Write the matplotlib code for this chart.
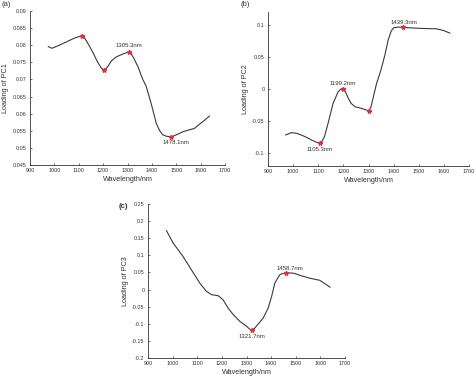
import matplotlib
matplotlib.use("Agg")
import matplotlib.pyplot as plt

plt.rcParams['font.family'] = ['Liberation Sans', 'DejaVu Sans']

# Panel (a) PC1 loading
wl_a = [975, 990, 1020, 1050, 1080, 1100, 1113, 1122, 1132, 1145, 1160, 1173, 1183, 1193,
        1203, 1212, 1222, 1235, 1254, 1280, 1295, 1305.3, 1314, 1325, 1343, 1361, 1377,
        1397, 1418, 1432, 1445, 1460, 1478.1, 1500, 1527, 1550, 1575, 1595, 1615, 1636]
pc1 = [0.0796, 0.0791, 0.0800, 0.0810, 0.0820, 0.0825, 0.0826, 0.0823, 0.0812, 0.0796,
       0.0776, 0.0757, 0.0744, 0.0733, 0.0728, 0.0731, 0.0741, 0.0755, 0.0766, 0.0774,
       0.0778, 0.0781, 0.0776, 0.0763, 0.0737, 0.0703, 0.0679, 0.0630, 0.0572, 0.0550,
       0.0538, 0.0534, 0.0532, 0.0538, 0.0547, 0.0552, 0.0557, 0.0569, 0.0580, 0.0593]
mk_a_x = [1113, 1203, 1305.3, 1478.1]
mk_a_y = [0.0826, 0.0728, 0.0781, 0.0532]

# Panel (b) PC2 loading
wl_b = [970, 993, 1013, 1033, 1053, 1073, 1093, 1105.3, 1115, 1125, 1139, 1159, 1179,
        1190, 1199.2, 1208, 1218, 1230, 1246, 1272, 1290, 1300, 1309, 1319, 1332, 1349,
        1365, 1378, 1390, 1400, 1420, 1439.3, 1465, 1518, 1571, 1598, 1624]
pc2 = [-0.0716, -0.0680, -0.0690, -0.0718, -0.0752, -0.0795, -0.0830, -0.0840, -0.0815,
       -0.0740, -0.0535, -0.0225, -0.0044, 0.0000, 0.0000, -0.0040, -0.0130, -0.0220,
       -0.0276, -0.0302, -0.0325, -0.0340, -0.0290, -0.0130, 0.0085, 0.0290, 0.0525,
       0.0760, 0.0900, 0.0955, 0.0965, 0.0960, 0.0953, 0.0943, 0.0938, 0.0912, 0.0871]
mk_b_x = [1105.3, 1199.2, 1300, 1439.3]
mk_b_y = [-0.0840, 0.0000, -0.0340, 0.0960]

# Panel (c) PC3 loading
wl_c = [975, 1002, 1042, 1076, 1110, 1137, 1158, 1185, 1205, 1225, 1246, 1273, 1300,
        1312, 1321.7, 1332, 1345, 1368, 1388, 1402, 1415, 1436, 1458.7, 1490, 1524,
        1558, 1598, 1639]
pc3 = [0.172, 0.136, 0.097, 0.058, 0.019, -0.005, -0.015, -0.018, -0.030, -0.054,
       -0.073, -0.093, -0.107, -0.115, -0.119, -0.114, -0.103, -0.083, -0.054, -0.020,
       0.019, 0.044, 0.049, 0.048, 0.040, 0.033, 0.027, 0.007]
mk_c_x = [1321.7, 1458.7]
mk_c_y = [-0.119, 0.049]

fig = plt.figure(figsize=(4.74, 3.8), dpi=100)
W, H = 474, 380

def ax_at(l, r, t, b):
    return fig.add_axes([l / W, 1 - b / H, (r - l) / W, (b - t) / H])

line_c = '#3a3a3a'
txt_c = '#333333'
fs_tick = 3.9
fs_lab = 5.2
fs_ann = 4.3

def style(ax, ylabel, ylim, yticks, yfmt):
    ax.set_xlim(900, 1700)
    ax.set_xticks(range(900, 1701, 100))
    ax.set_ylim(*ylim)
    ax.set_yticks(yticks)
    ax.set_yticklabels([yfmt(v) for v in yticks])
    for s in ['top', 'right']:
        ax.spines[s].set_visible(False)
    for s in ['left', 'bottom']:
        ax.spines[s].set_linewidth(0.6)
        ax.spines[s].set_color('#333333')
    ax.tick_params(direction='in', length=1.5, width=0.5, labelsize=fs_tick, pad=2.5,
                   colors='#333333')
    ax.set_xlabel('Wavelength/nm', fontsize=fs_lab, labelpad=2, color=txt_c)
    ax.set_ylabel(ylabel, fontsize=fs_lab, labelpad=2.5, color=txt_c)

def fmt(v):
    s = ('%.3f' % v).rstrip('0').rstrip('.')
    if s in ('-0', '0'):
        return '0'
    return s

mk_kw = dict(ls='none', marker='*', color='#e0303a', ms=3.2)

# (a)
ax1 = ax_at(30, 225, 11, 165)
ax1.plot(wl_a, pc1, color=line_c, lw=0.8)
ax1.plot(mk_a_x, mk_a_y, **mk_kw)
style(ax1, 'Loading of PC1', (0.045, 0.09),
      [0.045, 0.05, 0.055, 0.06, 0.065, 0.07, 0.075, 0.08, 0.085, 0.09], fmt)
ax1.text(1305.3, 0.0792, '1305.3nm', fontsize=fs_ann, ha='center', va='bottom', color=txt_c)
ax1.text(1500, 0.0523, '1478.1nm', fontsize=fs_ann, ha='center', va='top', color=txt_c)
fig.text(1 / W, 1 - 4 / H, '(a)', fontsize=5.5, ha='left', va='center', color=txt_c)

# (b)
ax2 = ax_at(268, 469, 12, 166)
ax2.plot(wl_b, pc2, color=line_c, lw=0.8)
ax2.plot(mk_b_x, mk_b_y, **mk_kw)
style(ax2, 'Loading of PC2', (-0.12, 0.12), [-0.1, -0.05, 0, 0.05, 0.1], fmt)
ax2.text(1105.3, -0.091, '1105.3nm', fontsize=fs_ann, ha='center', va='top', color=txt_c)
ax2.text(1199.2, 0.004, '1199.2nm', fontsize=fs_ann, ha='center', va='bottom', color=txt_c)
ax2.text(1439.3, 0.099, '1439.3nm', fontsize=fs_ann, ha='center', va='bottom', color=txt_c)
fig.text(240 / W, 1 - 5 / H, '(b)', fontsize=5.5, ha='left', va='center', color=txt_c)

# (c)
ax3 = ax_at(148, 345, 204, 358)
ax3.plot(wl_c, pc3, color=line_c, lw=0.8)
ax3.plot(mk_c_x, mk_c_y, **mk_kw)
style(ax3, 'Loading of PC3', (-0.2, 0.25),
      [-0.2, -0.15, -0.1, -0.05, 0, 0.05, 0.1, 0.15, 0.2, 0.25], fmt)
ax3.text(1321.7, -0.13, '1321.7nm', fontsize=fs_ann, ha='center', va='top', color=txt_c)
ax3.text(1475, 0.055, '1458.7nm', fontsize=fs_ann, ha='center', va='bottom', color=txt_c)
fig.text(119 / W, 1 - 206 / H, '(c)', fontsize=5.5, ha='left', va='center',
         color=txt_c, fontweight='bold')

fig.savefig('out.png', dpi=100, facecolor='white')
